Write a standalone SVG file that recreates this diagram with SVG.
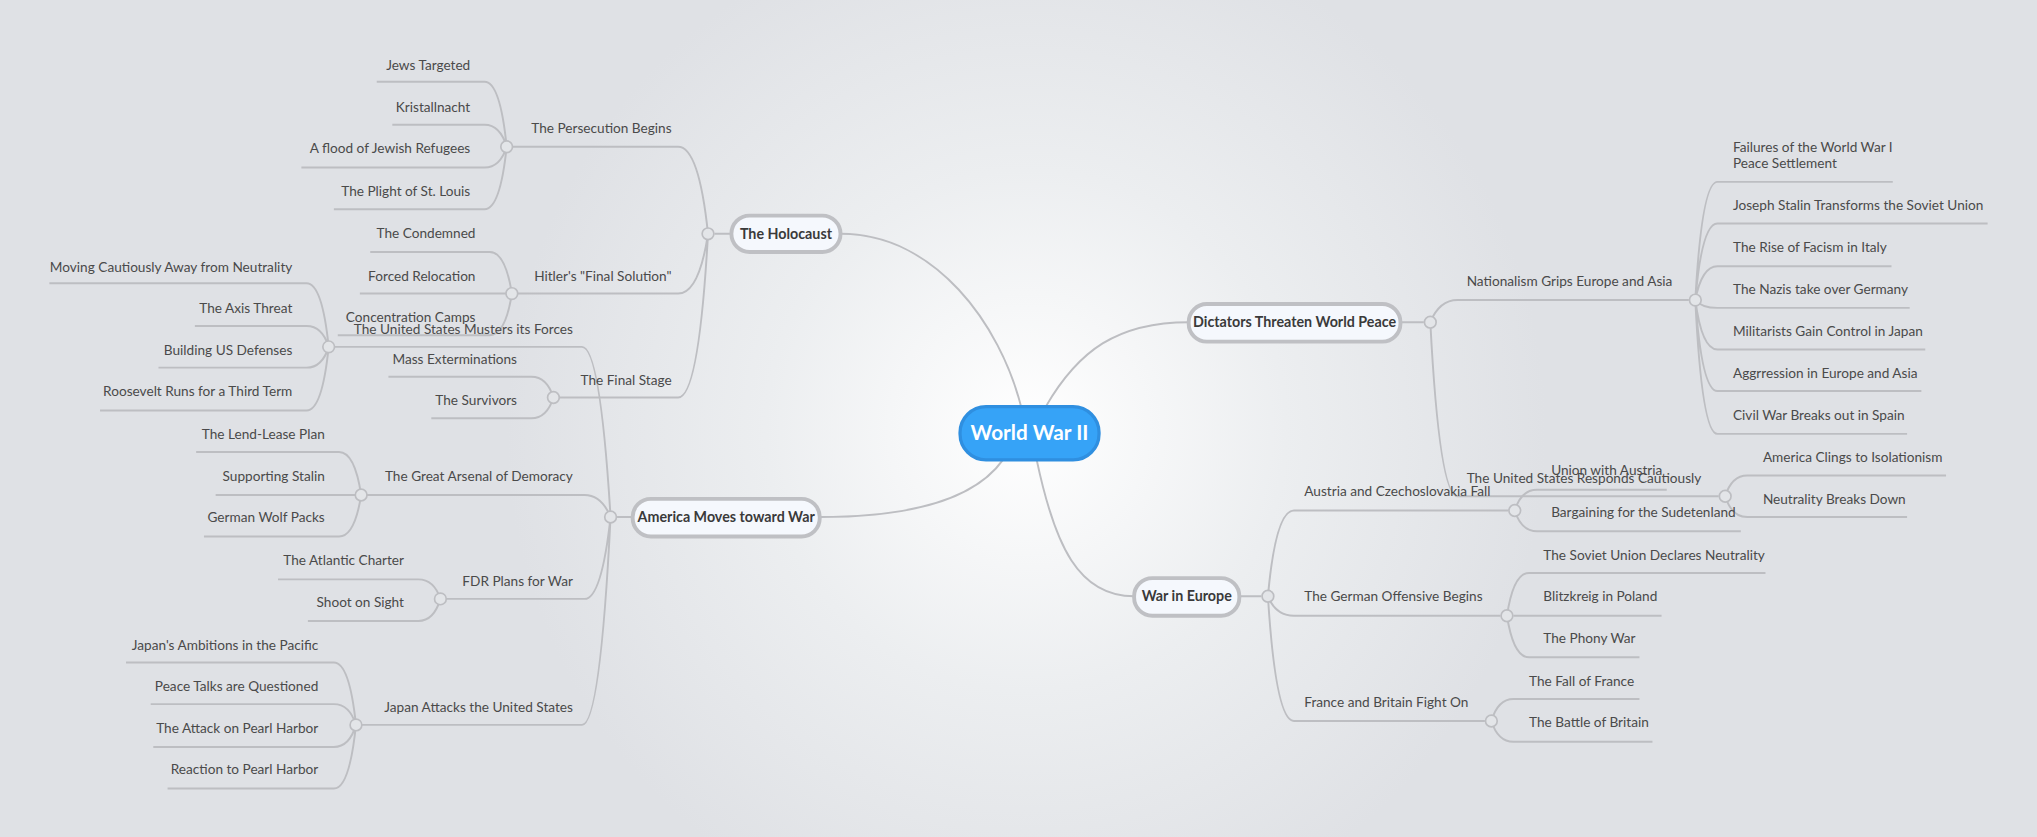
<svg xmlns="http://www.w3.org/2000/svg" width="2037" height="837" viewBox="0 0 2037 837">
<defs>
<radialGradient id="bg" cx="1026" cy="430" r="520" gradientUnits="userSpaceOnUse">
<stop offset="0" stop-color="#ffffff"/><stop offset="0.5" stop-color="#eceef0"/><stop offset="1" stop-color="#dfe1e5"/>
</radialGradient>
<style>
.l{fill:none;stroke:#bdbec2;stroke-width:1.5}
.j{fill:#e3e5e8;stroke:#bdbec2;stroke-width:1.3}
.t{font-family:Lato,"Open Sans",sans-serif;font-size:10.5px;fill:#4a4a4a}
.e{text-anchor:end}
.n{fill:#f5f8fd;stroke:#bfc0c4;stroke-width:3}
.nt{font-family:Lato,"Open Sans",sans-serif;font-size:11px;font-weight:bold;fill:#3a3a3a;text-anchor:middle}
</style>
</defs>
<rect width="2037" height="837" fill="url(#bg)"/>
<g transform="scale(1.2991)">
<g id="connectors">
<path class="l" d="M786,313 C770,250 720,180 647,180"/>
<path class="l" d="M805,313 C830,270 860,248 915,248"/>
<path class="l" d="M772,354 C750,385 700,398 631,398"/>
<path class="l" d="M798,354 C812,420 830,459 873,459"/>
<path class="l" d="M563,180 H550 M545,180 Q538,113 522,113 H394 M545,180 Q538,226 522,226 H398 M545,180 Q538,306 522,306 H430"/>
<path class="l" d="M390,113 Q385,63 373,63 H290 M390,113 Q385,96 373,96 H302 M390,113 Q385,129 373,129 H232 M390,113 Q385,161 373,161 H257"/>
<path class="l" d="M394,226 Q389,194 377,194 H285 M390,226 H277 M394,226 Q389,258 377,258 H260"/>
<path class="l" d="M426,306 Q421,290 409,290 H299 M426,306 Q421,322 409,322 H332"/>
<path class="l" d="M487,398 H475 M470,398 Q462,267 448,267 H257 M470,398 Q463,381 450,381 H282 M470,398 Q463,461 450,461 H343 M470,398 Q462,558 448,558 H278"/>
<path class="l" d="M253,267 Q248,218 236,218 H38 M253,267 Q248,251 236,251 H150 M253,267 Q248,283 236,283 H122 M253,267 Q248,316 236,316 H77"/>
<path class="l" d="M278,381 Q273,348 261,348 H151 M274,381 H166 M278,381 Q273,413 261,413 H157"/>
<path class="l" d="M339,461 Q334,446 322,446 H214 M339,461 Q334,478 322,478 H237"/>
<path class="l" d="M274,558 Q269,510 257,510 H97 M274,558 Q269,542 257,542 H116 M274,558 Q269,575 257,575 H118 M274,558 Q269,607 257,607 H129"/>
<path class="l" d="M1078,248 H1096 M1101,248 Q1108,231 1122,231 H1300 M1101,248 Q1108,382 1122,382 H1323"/>
<path class="l" d="M1305,231 Q1310,140 1322,140 H1457 M1305,231 Q1310,172 1322,172 H1530 M1305,231 Q1310,205 1322,205 H1456 M1305,231 Q1310,237 1322,237 H1470 M1305,231 Q1310,269 1322,269 H1482 M1305,231 Q1310,301 1322,301 H1479 M1305,231 Q1310,334 1322,334 H1468"/>
<path class="l" d="M1328,382 Q1333,366 1345,366 H1498 M1328,382 Q1333,398 1345,398 H1468"/>
<path class="l" d="M954,459 H971 M976,459 Q982,393 996,393 H1161 M976,459 Q982,474 996,474 H1155 M976,459 Q982,555 996,555 H1143"/>
<path class="l" d="M1166,393 Q1171,377 1183,377 H1283 M1166,393 Q1171,409 1183,409 H1340"/>
<path class="l" d="M1160,474 Q1165,441 1177,441 H1359 M1165,474 H1279 M1160,474 Q1165,506 1177,506 H1262"/>
<path class="l" d="M1148,555 Q1153,538 1165,538 H1262 M1148,555 Q1153,571 1165,571 H1272"/>
<g>
<circle class="j" cx="545" cy="180" r="4.5"/><circle class="j" cx="390" cy="113" r="4.5"/><circle class="j" cx="394" cy="226" r="4.5"/><circle class="j" cx="426" cy="306" r="4.5"/>
<circle class="j" cx="470" cy="398" r="4.5"/><circle class="j" cx="253" cy="267" r="4.5"/><circle class="j" cx="278" cy="381" r="4.5"/><circle class="j" cx="339" cy="461" r="4.5"/><circle class="j" cx="274" cy="558" r="4.5"/>
<circle class="j" cx="1101" cy="248" r="4.5"/><circle class="j" cx="1305" cy="231" r="4.5"/><circle class="j" cx="1328" cy="382" r="4.5"/>
<circle class="j" cx="976" cy="459" r="4.5"/><circle class="j" cx="1166" cy="393" r="4.5"/><circle class="j" cx="1160" cy="474" r="4.5"/><circle class="j" cx="1148" cy="555" r="4.5"/>
</g>
</g>
<g id="root"><rect x="739" y="313" width="107" height="41" rx="20" fill="#36a3f7" stroke="#2f8fe0" stroke-width="2.5"/><text x="792.5" y="339" font-family="Lato,'Open Sans',sans-serif" font-size="16" font-weight="bold" fill="#fff" text-anchor="middle">World War II</text></g>
<g id="holocaust"><rect class="n" x="563" y="166" width="84" height="28" rx="14"/><text class="nt" x="605" y="184">The Holocaust</text></g>
<g id="dictators"><rect class="n" x="915" y="234" width="163" height="29" rx="14"/><text class="nt" x="996.5" y="252">Dictators Threaten World Peace</text></g>
<g id="america"><rect class="n" x="487" y="384" width="144" height="29" rx="14"/><text class="nt" x="559" y="402">America Moves toward War</text></g>
<g id="europe"><rect class="n" x="873" y="445" width="81" height="29" rx="14"/><text class="nt" x="913.5" y="463">War in Europe</text></g>
<g id="labels">
<text class="t e" x="517" y="102">The Persecution Begins</text>
<text class="t e" x="517" y="216">Hitler's "Final Solution"</text>
<text class="t e" x="517" y="296">The Final Stage</text>
<text class="t e" x="362" y="54">Jews Targeted</text>
<text class="t e" x="362" y="86">Kristallnacht</text>
<text class="t e" x="362" y="118">A flood of Jewish Refugees</text>
<text class="t e" x="362" y="151">The Plight of St. Louis</text>
<text class="t e" x="366" y="183">The Condemned</text>
<text class="t e" x="366" y="216">Forced Relocation</text>
<text class="t e" x="366" y="248">Concentration Camps</text>
<text class="t e" x="398" y="280">Mass Exterminations</text>
<text class="t e" x="398" y="312">The Survivors</text>
<text class="t e" x="441" y="257">The United States Musters its Forces</text>
<text class="t e" x="441" y="370">The Great Arsenal of Demoracy</text>
<text class="t e" x="441" y="451">FDR Plans for War</text>
<text class="t e" x="441" y="548">Japan Attacks the United States</text>
<text class="t e" x="225" y="209">Moving Cautiously Away from Neutrality</text>
<text class="t e" x="225" y="241">The Axis Threat</text>
<text class="t e" x="225" y="273">Building US Defenses</text>
<text class="t e" x="225" y="305">Roosevelt Runs for a Third Term</text>
<text class="t e" x="250" y="338">The Lend-Lease Plan</text>
<text class="t e" x="250" y="370">Supporting Stalin</text>
<text class="t e" x="250" y="402">German Wolf Packs</text>
<text class="t e" x="311" y="435">The Atlantic Charter</text>
<text class="t e" x="311" y="467">Shoot on Sight</text>
<text class="t e" x="245" y="500">Japan's Ambitions in the Pacific</text>
<text class="t e" x="245" y="532">Peace Talks are Questioned</text>
<text class="t e" x="245" y="564">The Attack on Pearl Harbor</text>
<text class="t e" x="245" y="596">Reaction to Pearl Harbor</text>
<text class="t" x="1129" y="220">Nationalism Grips Europe and Asia</text>
<text class="t" x="1129" y="372">The United States Responds Cautiously</text>
<text class="t" x="1334" y="117">Failures of the World War I</text>
<text class="t" x="1334" y="129">Peace Settlement</text>
<text class="t" x="1334" y="162">Joseph Stalin Transforms the Soviet Union</text>
<text class="t" x="1334" y="194">The Rise of Facism in Italy</text>
<text class="t" x="1334" y="226">The Nazis take over Germany</text>
<text class="t" x="1334" y="259">Militarists Gain Control in Japan</text>
<text class="t" x="1334" y="291">Aggrression in Europe and Asia</text>
<text class="t" x="1334" y="323">Civil War Breaks out in Spain</text>
<text class="t" x="1357" y="356">America Clings to Isolationism</text>
<text class="t" x="1357" y="388">Neutrality Breaks Down</text>
<text class="t" x="1004" y="382">Austria and Czechoslovakia Fall</text>
<text class="t" x="1004" y="463">The German Offensive Begins</text>
<text class="t" x="1004" y="544">France and Britain Fight On</text>
<text class="t" x="1194" y="366">Union with Austria</text>
<text class="t" x="1194" y="398">Bargaining for the Sudetenland</text>
<text class="t" x="1188" y="431">The Soviet Union Declares Neutrality</text>
<text class="t" x="1188" y="463">Blitzkreig in Poland</text>
<text class="t" x="1188" y="495">The Phony War</text>
<text class="t" x="1177" y="528">The Fall of France</text>
<text class="t" x="1177" y="560">The Battle of Britain</text>
</g>
</g>
</svg>
